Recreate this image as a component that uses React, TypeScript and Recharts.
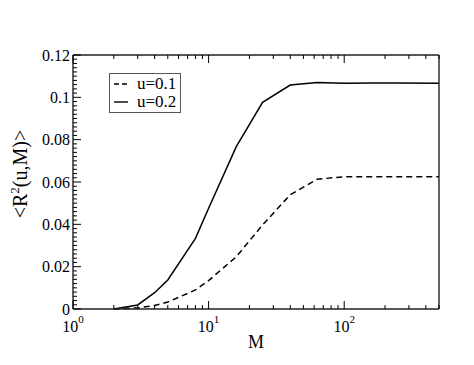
import { LineChart, Line, XAxis, YAxis, Legend } from "recharts"

// M values (log axis) and <R^2(u,M)> for the two u values
const mValues = [2, 3, 4, 5, 8, 10, 16, 25, 40, 63, 100, 160, 250, 500]
const u01Values = [0, 0.0005, 0.0017, 0.0033, 0.009, 0.0134, 0.0247, 0.0397, 0.054, 0.0613, 0.0625, 0.0625, 0.0625, 0.0625]
const u02Values = [0, 0.0019, 0.0077, 0.0137, 0.0334, 0.0476, 0.0767, 0.0976, 0.1058, 0.107, 0.1067, 0.1068, 0.1068, 0.1066]
const seriesNames = ["u=0.1", "u=0.2"]

const xMajorTicks = [1, 10, 100]
const xTickExponents = ["0", "1", "2"]
const xMinorTicks = [2, 3, 4, 5, 6, 7, 8, 9, 20, 30, 40, 50, 60, 70, 80, 90, 200, 300, 400, 500]
const yMajorTicks = [0, 0.02, 0.04, 0.06, 0.08, 0.1, 0.12]
const yTickLabels = ["0", "0.02", "0.04", "0.06", "0.08", "0.1", "0.12"]

const xTicks = [...xMajorTicks, ...xMinorTicks].sort((a, b) => a - b)
const yTicks = Array.from({ length: 61 }, (_, i) => Math.round(i * 2) / 1000)

const data = mValues.map((m, i) => ({ m, u01: u01Values[i], u02: u02Values[i] }))

const FONT = "'Liberation Serif', 'Times New Roman', serif"
const INK = "#000"

const majorIndexY = (v: number) => yMajorTicks.findIndex((t) => Math.abs(t - v) < 1e-9)

function BottomTick({ x, y, payload }: any) {
  const idx = xMajorTicks.indexOf(payload.value)
  return (
    <g>
      <line x1={x} y1={y} x2={x} y2={y - (idx >= 0 ? 8 : 4)} stroke={INK} strokeWidth={1} />
      {idx >= 0 && (
        <text x={x} y={y + 23} textAnchor="middle" fontSize={16} fontFamily={FONT} fill={INK}>
          10
          <tspan dy={-9} fontSize={11}>{xTickExponents[idx]}</tspan>
        </text>
      )}
    </g>
  )
}

function TopTick({ x, y, payload }: any) {
  const idx = xMajorTicks.indexOf(payload.value)
  return <line x1={x} y1={y} x2={x} y2={y + (idx >= 0 ? 8 : 4)} stroke={INK} strokeWidth={1} />
}

function LeftTick({ x, y, payload }: any) {
  const idx = majorIndexY(payload.value)
  return (
    <g>
      <line x1={x} y1={y} x2={x + (idx >= 0 ? 8 : 4)} y2={y} stroke={INK} strokeWidth={1} />
      {idx >= 0 && (
        <text x={x - 3} y={y} dy="0.35em" textAnchor="end" fontSize={16} fontFamily={FONT} fill={INK}>
          {yTickLabels[idx]}
        </text>
      )}
    </g>
  )
}

function RightTick({ x, y, payload }: any) {
  const idx = majorIndexY(payload.value)
  return <line x1={x} y1={y} x2={x - (idx >= 0 ? 8 : 4)} y2={y} stroke={INK} strokeWidth={1} />
}

function YTitle({ viewBox }: any) {
  const cx = viewBox.x + viewBox.width - 46
  const cy = viewBox.y + viewBox.height / 2 - 8
  return (
    <text
      x={cx}
      y={cy}
      textAnchor="middle"
      transform={`rotate(-90, ${cx}, ${cy})`}
      fontSize={20}
      fontFamily={FONT}
      fill={INK}
    >
      {"<R"}
      <tspan dy={-8} fontSize={13}>2</tspan>
      <tspan dy={8}>{"(u,M)>"}</tspan>
    </text>
  )
}

function XTitle({ viewBox }: any) {
  return (
    <text x={viewBox.x + viewBox.width / 2} y={viewBox.y + 39} textAnchor="middle" fontSize={18} fontFamily={FONT} fill={INK}>
      M
    </text>
  )
}

function LegendBox() {
  const dashes = ["5 3", undefined]
  return (
    <div
      style={{
        border: "1px solid #555",
        background: "#fff",
        padding: "1px 4px 1px 3px",
        fontFamily: FONT,
        fontSize: 17,
        lineHeight: "18px",
        color: INK,
      }}
    >
      {seriesNames.map((name, i) => (
        <div key={name} style={{ display: "flex", alignItems: "center" }}>
          <svg width={16} height={10} style={{ marginRight: 8 }}>
            <line x1={1} y1={5} x2={15} y2={5} stroke={INK} strokeWidth={1.4} strokeDasharray={dashes[i]} />
          </svg>
          <span>{name}</span>
        </div>
      ))}
    </div>
  )
}

const axisCommon = {
  tickSize: 0,
  tickMargin: 0,
  tickLine: false,
  interval: 0 as const,
  axisLine: { stroke: "#222", strokeWidth: 1.4 },
}

export default function App() {
  return (
    <div style={{ position: "absolute", left: 0, top: 0, width: 474, height: 365, background: "#fff" }}>
      <LineChart width={474} height={365} data={data} margin={{ top: 54, right: 34, bottom: 55, left: 72 }}>
        <XAxis
          {...axisCommon}
          dataKey="m"
          type="number"
          scale="log"
          domain={[1, 500]}
          allowDataOverflow
          ticks={xTicks}
          height={1}
          tick={<BottomTick />}
          label={{ content: <XTitle /> }}
        />
        <XAxis
          {...axisCommon}
          xAxisId="top"
          orientation="top"
          dataKey="m"
          type="number"
          scale="log"
          domain={[1, 500]}
          allowDataOverflow
          ticks={xTicks}
          height={1}
          tick={<TopTick />}
        />
        <YAxis
          {...axisCommon}
          type="number"
          domain={[0, 0.12]}
          ticks={yTicks}
          width={1}
          tick={<LeftTick />}
          label={{ content: <YTitle /> }}
        />
        <YAxis
          {...axisCommon}
          yAxisId="right"
          orientation="right"
          type="number"
          domain={[0, 0.12]}
          ticks={yTicks}
          width={1}
          tick={<RightTick />}
        />
        <Legend
          layout="vertical"
          verticalAlign="middle"
          align="center"
          content={<LegendBox />}
          wrapperStyle={{ left: 109, top: 73, width: "auto" }}
        />
        <Line
          dataKey="u01"
          name={seriesNames[0]}
          stroke={INK}
          strokeWidth={1.5}
          strokeDasharray="6 4"
          dot={false}
          type="linear"
          isAnimationActive={false}
        />
        <Line
          dataKey="u02"
          name={seriesNames[1]}
          stroke={INK}
          strokeWidth={1.5}
          dot={false}
          type="linear"
          isAnimationActive={false}
        />
      </LineChart>
    </div>
  )
}
